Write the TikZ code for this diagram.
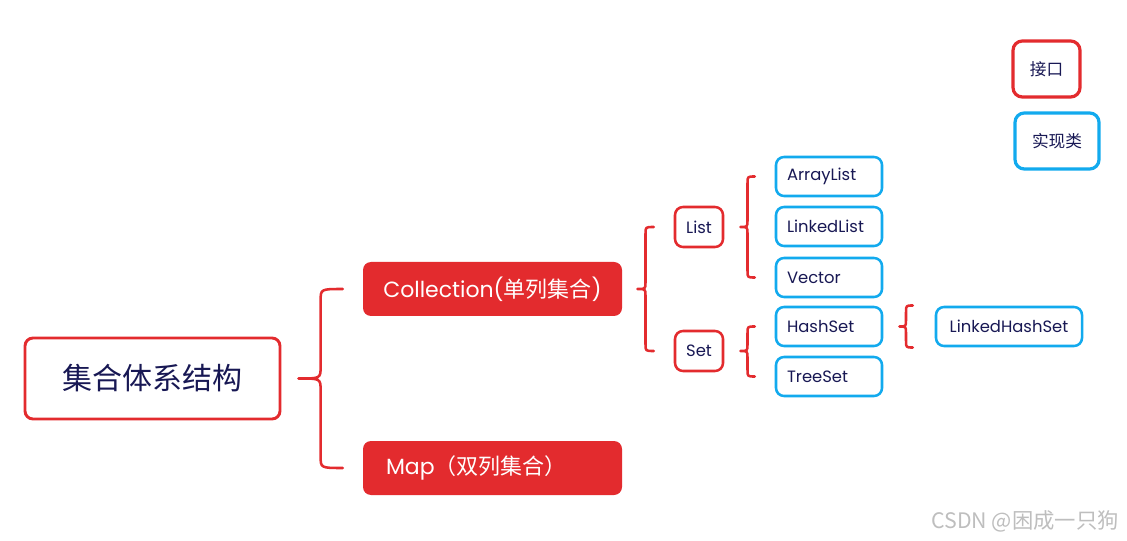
\documentclass[tikz,border=0pt]{standalone}
\usepackage{fontspec}
\setmainfont{Poppins}
\newfontfamily\cjk{Noto Sans CJK SC}
\usetikzlibrary{calc}
\definecolor{rd}{RGB}{227,43,46}
\definecolor{bl}{RGB}{18,170,238}
\definecolor{tx}{RGB}{24,24,84}
\definecolor{wm}{RGB}{190,190,190}
\newcommand\drawbrace[4]{%
  \draw[bracestyle] let \p1=#1, \p2=#2, \p3=#3, \p4=($#1!0.5!#2$) in
  (\p2) .. controls (\x4,\y2) .. (\x4,{\y2-#4})
  -- (\x4,{\y1+#4}) .. controls (\x4,\y1) .. (\p1)
  .. controls (\x4,\y1) .. (\x4,{\y1-#4})
  -- (\x4,{\y3+#4}) .. controls (\x4,\y3) .. (\p3);}
\begin{document}
\begin{tikzpicture}[x=0.75pt,y=-0.75pt,
  bracestyle/.style={draw=rd,line width=1.9pt,line cap=round,line join=round},
  redbox/.style={draw=rd,line width=2.2pt,rounded corners=6pt,fill=white,text=tx,inner sep=0pt},
  fillbox/.style={fill=rd,rounded corners=6pt,text=white,inner sep=0pt,
    minimum width=194.25pt,minimum height=40.5pt,font=\fontsize{16.5pt}{20pt}\selectfont},
  smallred/.style={redbox,line width=1.9pt,minimum width=36pt,minimum height=30pt,
    font=\fontsize{12.3pt}{14pt}\selectfont},
  bluebox/.style={draw=bl,line width=1.9pt,rounded corners=6pt,fill=white,text=tx,
    minimum height=29.25pt,inner xsep=8.25pt,inner ysep=0pt,
    font=\fontsize{12.3pt}{14pt}\selectfont},
  legend/.style={inner sep=0pt,rounded corners=7pt,fill=white,text=tx,
    line width=2.4pt,minimum height=42pt,font=\cjk\fontsize{12.5pt}{15pt}\selectfont}
]
\useasboundingbox (0,0) rectangle (1127,541);

% main nodes
\node[redbox,minimum width=191.25pt,minimum height=60.75pt,
  font=\cjk\fontsize{22.5pt}{27pt}\selectfont] (root) at (152.5,378.5) {集合体系结构};
\node[fillbox] (coll) at (492.5,289) {Collection({\cjk 单列集合})};
\node[fillbox,inner xsep=17.25pt,text width=159.75pt,align=left] (map) at (492.5,468)
  {\mbox{Map{\cjk （双列集合）}}};

\node[smallred] (list) at (699,227) {List};
\node[smallred] (set) at (699,351) {Set};

\node[bluebox,text width=63pt,align=left] (al) at (829,176.5) {\mbox{ArrayList}};
\node[bluebox,text width=63pt,align=left] (ll) at (829,226.5) {\mbox{LinkedList}};
\node[bluebox,text width=63pt,align=left] (vec) at (829,277.5) {\mbox{Vector}};
\node[bluebox,text width=63pt,align=left] (hs) at (829,326.5) {\mbox{HashSet}};
\node[bluebox,text width=63pt,align=left] (ts) at (829,376.5) {\mbox{TreeSet}};
\node[bluebox,minimum width=109.5pt,inner xsep=0pt] (lhs) at (1009,326.5) {LinkedHashSet};

% legend
\node[legend,draw=rd,minimum width=50.25pt] (iface) at (1046.5,69) {接口};
\node[legend,draw=bl,minimum width=63pt] (impl) at (1057,141) {实现类};

% brace coordinates
\coordinate (b1t) at ($(root.east)+(17,0)$);
\coordinate (b1a) at ($(coll.west)+(-20,0)$);
\coordinate (b1b) at ($(map.west)+(-20,0)$);
\coordinate (b2t) at ($(coll.east)+(15,0)$);
\coordinate (b2a) at ($(list.west)+(-20,0)$);
\coordinate (b2b) at ($(set.west)+(-20,0)$);
\coordinate (b3t) at ($(list.east)+(16,0)$);
\coordinate (b3a) at ($(al.west)+(-20,0)$);
\coordinate (b3b) at ($(vec.west)+(-20,0)$);
\coordinate (b4t) at ($(set.east)+(16,0)$);
\coordinate (b4a) at ($(hs.west)+(-20,0)$);
\coordinate (b4b) at ($(ts.west)+(-20,0)$);
\coordinate (b5t) at ($(hs.east)+(16,0)$);
\coordinate (b5a) at ($(lhs.west)+(-22,-21)$);
\coordinate (b5b) at ($(lhs.west)+(-22,21)$);

\drawbrace{(b1t)}{(b1a)}{(b1b)}{9pt}
\drawbrace{(b2t)}{(b2a)}{(b2b)}{5pt}
\drawbrace{(b3t)}{(b3a)}{(b3b)}{5pt}
\drawbrace{(b4t)}{(b4a)}{(b4b)}{5pt}
\drawbrace{(b5t)}{(b5a)}{(b5b)}{5pt}

% watermark
\node[anchor=west,inner sep=0pt,text=wm,font=\cjk\fontsize{16pt}{18pt}\selectfont] (wmark) at (931,521) {CSDN @困成一只狗};
\end{tikzpicture}
\end{document}
